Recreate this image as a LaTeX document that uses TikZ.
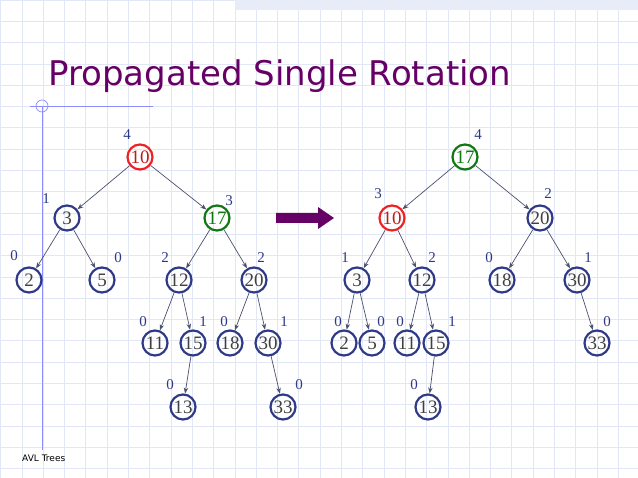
\documentclass[tikz,border=0pt]{standalone}
\usepackage{fontspec}
\setmainfont{Liberation Serif}
\newfontfamily\titlefont{DejaVu Sans}
\usetikzlibrary{arrows.meta}
\definecolor{navy}{HTML}{2E3A87}
\definecolor{gridc}{HTML}{E2E7F6}
\definecolor{ttl}{HTML}{660066}
\definecolor{edgec}{HTML}{4A5070}
\definecolor{redc}{HTML}{EE2222}
\definecolor{grn}{HTML}{117711}
\tikzset{
 tn/.style={circle,draw=navy,line width=2.2pt,inner sep=0pt,minimum size=25pt,font=\fontsize{19}{19}\selectfont,text=black!75},
 rd/.style={tn,draw=redc,text=redc!80!black},
 gr/.style={tn,draw=grn,text=grn},
 bl/.style={text=navy,font=\fontsize{15}{15}\selectfont,inner sep=0pt},
 ed/.style={draw=edgec,line width=0.7pt,-{Stealth[length=6pt,width=4.5pt]}}
}
\begin{document}
\begin{tikzpicture}[x=1pt,y=-1pt]
\useasboundingbox (0,0) rectangle (638,478);
\fill[white] (0,0) rectangle (638,478);
\foreach \i in {0,...,30} {\draw[gridc,line width=0.6pt] (\i*21.3+0.5,0) -- (\i*21.3+0.5,478);}
\foreach \j in {0,...,23} {\draw[gridc,line width=0.6pt] (0,\j*21.3) -- (638,\j*21.3);}
\fill[gridc!80] (235,0) rectangle (638,10);
\draw[blue!45,line width=0.7pt] (30,106) -- (153,106) (42,106) -- (42,450);
\draw[blue!45,line width=0.7pt] (42,106) circle (6);
\node[anchor=west,text=ttl,font=\titlefont\fontsize{34}{34}\selectfont,inner sep=0pt] (title) at (48,76) {Propagated Single Rotation};
\node[anchor=west,font=\titlefont\fontsize{9}{9}\selectfont,inner sep=0pt] (foot) at (22,458) {AVL Trees};
% left tree
\node[rd] (a10) at (140,157) {10};
\node[tn] (a3) at (67,218) {3};
\node[gr] (a17) at (217,218) {17};
\node[tn] (a2) at (29,280) {2};
\node[tn] (a5) at (102,280) {5};
\node[tn] (a12) at (179,280) {12};
\node[tn] (a20) at (254,280) {20};
\node[tn] (a11) at (155,343) {11};
\node[tn] (a15) at (193,343) {15};
\node[tn] (a18) at (230,343) {18};
\node[tn] (a30) at (268,343) {30};
\node[tn] (a13) at (183,407) {13};
\node[tn] (a33) at (283,407) {33};
\foreach \u/\v in {a10/a3,a10/a17,a3/a2,a3/a5,a17/a12,a17/a20,a12/a11,a12/a15,a20/a18,a20/a30,a15/a13,a30/a33} \draw[ed] (\u) -- (\v);
\foreach \p/\t [count=\k] in {{127,135}/4,{46,199}/1,{229,201}/3,{14,256}/0,{118,258}/0,{165,258}/2,{261,258}/2,{143,322}/0,{203,322}/1,{224,322}/0,{284,322}/1,{170,385}/0,{299,385}/0}
  \node[bl] (la\k) at (\p) {\t};
% arrow
\fill[ttl] (276,213) -- (318,213) -- (318,207) -- (334,218) -- (318,229) -- (318,223) -- (276,223) -- cycle;
% right tree
\node[gr] (b17) at (465,157) {17};
\node[rd] (b10) at (392,218) {10};
\node[tn] (b20) at (540,218) {20};
\node[tn] (b3) at (357,280) {3};
\node[tn] (b12) at (422,280) {12};
\node[tn] (b18) at (502,280) {18};
\node[tn] (b30) at (577,280) {30};
\node[tn] (b2) at (344,343) {2};
\node[tn] (b5) at (372,343) {5};
\node[tn] (b11) at (407,343) {11};
\node[tn] (b15) at (436,343) {15};
\node[tn] (b33) at (597,343) {33};
\node[tn] (b13) at (428,407) {13};
\foreach \u/\v in {b17/b10,b17/b20,b10/b3,b10/b12,b20/b18,b20/b30,b3/b2,b3/b5,b12/b11,b12/b15,b30/b33,b15/b13} \draw[ed] (\u) -- (\v);
\foreach \p/\t [count=\k] in {{478,135}/4,{378,194}/3,{548,194}/2,{345,258}/1,{432,258}/2,{489,258}/0,{588,258}/1,{338,322}/0,{381,322}/0,{400,322}/0,{452,322}/1,{607,322}/0,{414,385}/0}
  \node[bl] (lb\k) at (\p) {\t};
\end{tikzpicture}
\end{document}
